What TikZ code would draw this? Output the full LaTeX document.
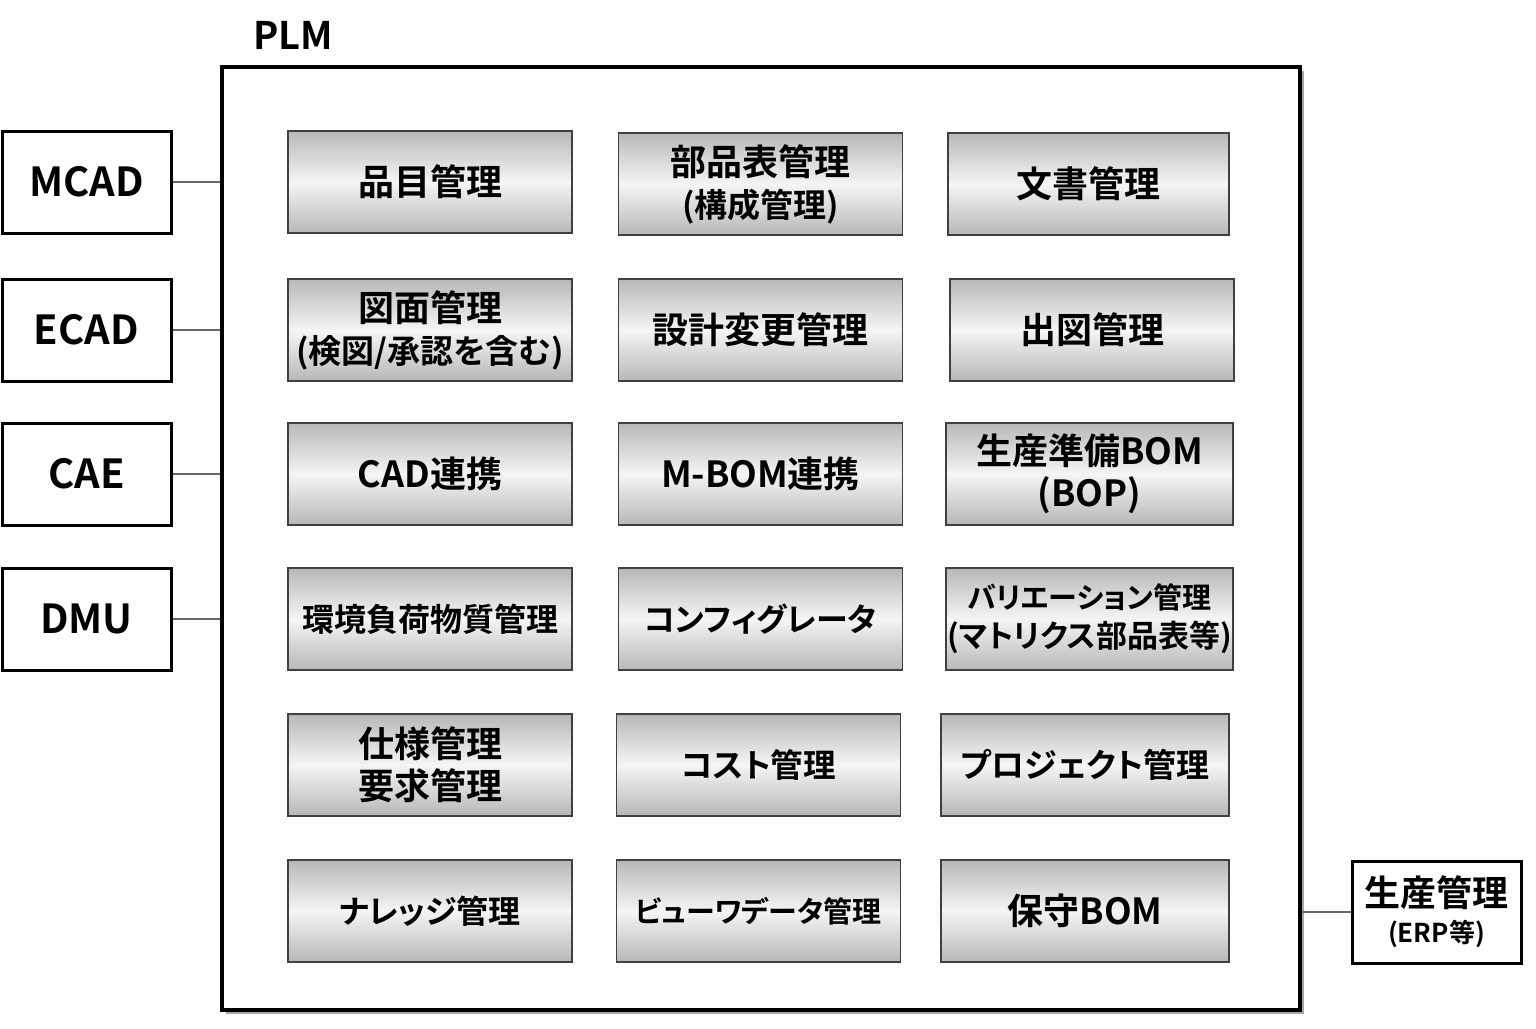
\documentclass[tikz,border=0pt]{standalone}
\usepackage{fontspec}
\setmainfont{Noto Sans CJK JP}[BoldFont={Noto Sans CJK JP Bold},RawFeature=+palt]
\usetikzlibrary{shadows}

\tikzset{
  sysbox/.style={draw=black, line width=1.5pt, fill=white, minimum width=84.5pt,
    minimum height=51pt, inner sep=0pt, align=center,
    font=\bfseries\fontsize{20}{22}\selectfont},
  funcbox/.style={draw=black!75, line width=0.9pt, top color=black!28,
    bottom color=black!28, middle color=black!4, minimum width=142pt,
    minimum height=51pt, inner sep=0pt, align=center,
    font=\bfseries\fontsize{18}{21}\selectfont},
  link/.style={draw=black!60, line width=1pt}
}
\newcommand{\subline}[1]{{\fontsize{16.5}{21}\selectfont #1}}
\newcommand{\kanafs}[1]{\fontsize{#1}{21}\selectfont}

\begin{document}
\begin{tikzpicture}[x=0.5pt,y=-0.5pt]
  \useasboundingbox (0,0) rectangle (1536,1028);

  % PLM frame
  \node[font=\bfseries\fontsize{19}{22}\selectfont] (plmlabel) at (293,35) {PLM};
  \node[draw=black, line width=2pt, fill=white, minimum width=539pt, minimum height=471.5pt,
    drop shadow={shadow xshift=2pt, shadow yshift=-2pt, fill=black!50, opacity=.7}]
    (frame) at (761,538.5) {};

  % outside systems
  \foreach \y/\i/\txt in {182/1/MCAD,330/2/ECAD,474/3/CAE,619/4/DMU} {
    \node[sysbox] (s\i) at (86.5,\y) {\txt};
    \draw[link] (s\i) -- (s\i -| frame.west);
  }
  \node[sysbox, font=\bfseries\fontsize{18}{19}\selectfont] (erp) at (1436.5,912)
    {生産管理\\[-1pt]{\fontsize{13}{14}\selectfont (ERP等)}};
  \draw[link] (erp) -- (erp -| frame.east);

  % functions
  \node[funcbox] (b1) at (430,182) {品目管理};
  \node[funcbox] (b2) at (760.5,184) {部品表管理\\\subline{(構成管理)}};
  \node[funcbox, minimum width=140.5pt] (b3) at (1088.5,184) {文書管理};

  \node[funcbox] (b4) at (430,330) {図面管理\\\subline{(検図/承認を含む)}};
  \node[funcbox] (b5) at (760.5,330) {設計変更管理};
  \node[funcbox] (b6) at (1092,330) {出図管理};

  \node[funcbox] (b7) at (430,474) {CAD連携};
  \node[funcbox] (b8) at (760.5,474) {M-BOM連携};
  \node[funcbox, minimum width=143.5pt] (b9) at (1089.5,474) {生産準備BOM\\(BOP)};

  \node[funcbox, font=\bfseries\kanafs{16}] (b10) at (430,619) {環境負荷物質管理};
  \node[funcbox, font=\bfseries\kanafs{16}] (b11) at (760.5,619) {コンフィグレータ};
  \node[funcbox, minimum width=143.5pt, font=\bfseries\fontsize{15.5}{19.5}\selectfont] (b12)
    at (1089.5,619) {{\kanafs{14.5}バリエーション管理}\\(マトリクス部品表等)};

  \node[funcbox] (b13) at (430,765) {仕様管理\\要求管理};
  \node[funcbox, font=\bfseries\kanafs{16.3}] (b14) at (758.5,765) {コスト管理};
  \node[funcbox, minimum width=144pt, font=\bfseries\kanafs{16.5}] (b15) at (1085,765) {プロジェクト管理};

  \node[funcbox, font=\bfseries\kanafs{16}] (b16) at (430,911) {ナレッジ管理};
  \node[funcbox, font=\bfseries\kanafs{14.5}] (b17) at (758.5,911) {ビューワデータ管理};
  \node[funcbox, minimum width=144pt] (b18) at (1085,911) {保守BOM};
\end{tikzpicture}
\end{document}
